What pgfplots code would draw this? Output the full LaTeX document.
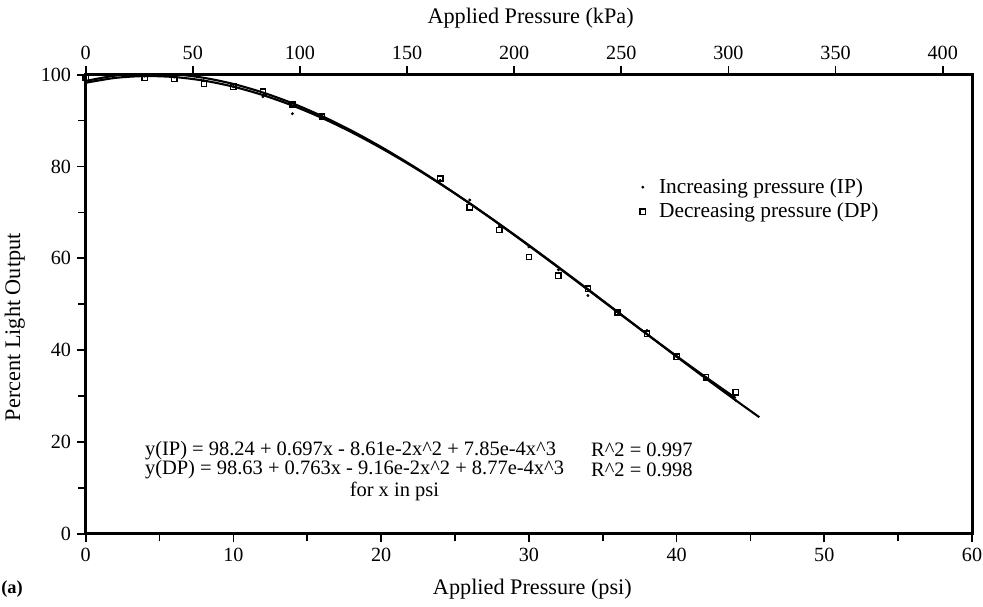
\documentclass[border=0pt]{standalone}
\usepackage{fontspec}
\setmainfont{Liberation Serif}
\usepackage{pgfplots}
\pgfplotsset{compat=1.18}

\begin{document}
\begin{tikzpicture}
\path[use as bounding box] (-1.72cm,-1.46cm) rectangle (18.02cm,10.72cm);
\pgfplotsset{
  common/.style={
    scale only axis,
    width=17.8cm, height=9.22cm,
    ymin=0, ymax=100,
    tick align=outside,
    major tick length=0.17cm,
    minor tick length=0.15cm,
    every tick/.style={black, line width=1pt},
    tick label style={font=\fontsize{11.5}{14}\selectfont},
    /pgf/number format/assume math mode=true,
    label style={font=\fontsize{12.7}{14}\selectfont},
  }
}
% top kPa axis
\begin{axis}[common,
    xmin=0, xmax=413.685,
    axis x line*=top, axis y line=none,
    xtick={0,50,...,400},
    xlabel={Applied Pressure (kPa)},
    xlabel style={at={(axis description cs:0.502,1.124)}, anchor=center},
]
\end{axis}
\begin{axis}[common,
    xmin=0, xmax=60,
    xtick={0,10,...,60}, minor x tick num=1,
    ytick={0,20,...,100}, minor y tick num=1,
    xtick pos=left, ytick pos=left,
    xlabel={Applied Pressure (psi)},
    ylabel={Percent Light Output},
    xlabel style={at={(axis description cs:0.504,-0.121)}, anchor=center},
    ylabel style={at={(axis description cs:-0.08,0.45)}, anchor=center},
    legend style={at={(axis cs:36.3,79.0)}, anchor=north west, draw=none, fill=none,
      font=\fontsize{12.2}{14}\selectfont, row sep=0pt},
    legend image code/.code={\draw[#1] plot coordinates {(0.3cm,0cm)};
      \path (0cm,0cm) (0.55cm,0cm);},
    legend cell align=left,
    clip mode=individual,
]
\draw[line width=1.7pt] (rel axis cs:0,0) rectangle (rel axis cs:1,1);
% fitted IP curve
\addplot[black, line width=1.2pt, smooth, forget plot] coordinates {
 (0,98.24) (2,99.30) (4,99.70) (6,99.49) (8,98.71) (10,97.39) (12,95.56)
 (14,93.28) (16,90.57) (18,87.47) (20,84.02) (22,80.26) (24,76.23) (26,71.96)
 (28,67.49) (30,62.86) (32,58.10) (34,53.26) (36,48.37) (38,43.47) (40,38.60)
 (42,33.79) (44,29.09) (45.6,25.4)
};
% fitted DP curve
\addplot[black, line width=1.2pt, smooth, forget plot] coordinates {
 (0,98.63) (2,99.80) (4,100.27) (6,100.10) (8,99.32) (10,97.98) (12,96.11)
 (14,93.77) (16,90.98) (18,87.80) (20,84.27) (22,80.42) (24,76.30) (26,71.96)
 (28,67.43) (30,62.76) (32,57.99) (34,53.15) (36,48.30) (38,43.48) (40,38.72)
 (42,34.07) (44,29.57)
};
% IP points
\addplot[only marks, mark=*, mark size=0.6pt, black] coordinates {
 (0,98.2) (4,99.7) (6,99.5) (8,98.7) (10,97.4) (12,95.2) (14,91.5) (16,90.6)
 (24,77.0) (26,72.7) (28,67.0) (30,62.5) (32,57.5) (34,51.9) (36,48.3)
 (38,44.3) (40,38.6) (42,34.0) (44,29.1)
};
\addlegendentry{Increasing pressure (IP)}
% DP points
\addplot[only marks, mark=square, mark size=1.5pt, black, mark options={line width=0.8pt}] coordinates {
 (0,99.3) (4,99.3) (6,99.1) (8,98.0) (10,97.4) (12,96.3) (14,93.5) (16,90.9)
 (24,77.4) (26,71.1) (28,66.2) (30,60.3) (32,56.2) (34,53.4) (36,48.2)
 (38,43.6) (40,38.6) (42,34.1) (44,30.8)
};
\addlegendentry{Decreasing pressure (DP)}
\node[anchor=west, font=\fontsize{11.7}{13}\selectfont] at (axis cs:3.6,18.2)
  {y(IP) = 98.24 + 0.697x - 8.61e-2x\textasciicircum2 + 7.85e-4x\textasciicircum3};
\node[anchor=west, font=\fontsize{11.7}{13}\selectfont] at (axis cs:33.8,18.2)
  {R\textasciicircum2 = 0.997};
\node[anchor=west, font=\fontsize{11.7}{13}\selectfont] at (axis cs:3.6,13.9)
  {y(DP) = 98.63 + 0.763x - 9.16e-2x\textasciicircum2 + 8.77e-4x\textasciicircum3};
\node[anchor=west, font=\fontsize{11.7}{13}\selectfont] at (axis cs:33.8,13.9)
  {R\textasciicircum2 = 0.998};
\node[font=\fontsize{11.7}{13}\selectfont] at (axis cs:20.9,9.3) {for x in psi};
\node[font=\bfseries\fontsize{10.5}{12}\selectfont] at (axis description cs:-0.083,-0.121) {(a)};
\end{axis}
\end{tikzpicture}
\end{document}
